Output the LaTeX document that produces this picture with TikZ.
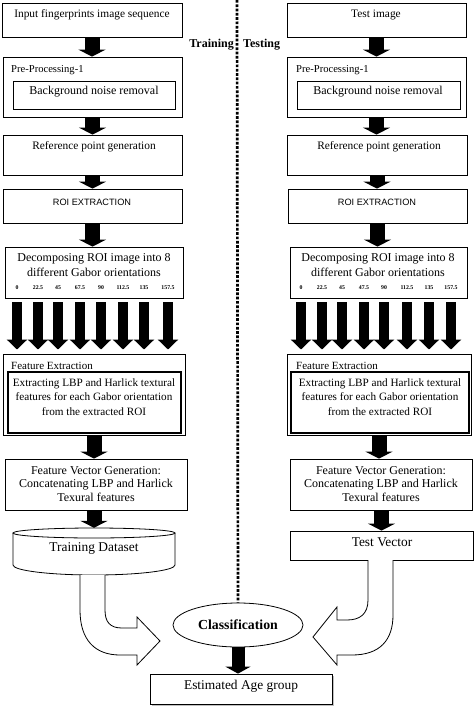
\documentclass[tikz,border=0pt]{standalone}
\usepackage{fontspec}
\setmainfont{Liberation Serif}
\setsansfont{Liberation Sans}
\usetikzlibrary{arrows.meta,shapes.geometric,fit}
\begin{document}
\begin{tikzpicture}[x=1pt,y=-1pt,
  box/.style={draw, line width=0.8pt, inner sep=0pt, fill=white},
  thickbox/.style={draw, line width=1.2pt, inner sep=0pt},
  txt/.style={font=\fontsize{11.4}{14.5}\selectfont, inner sep=0pt, align=center},
  lbl/.style={font=\fontsize{10.6}{12}\selectfont, inner sep=0pt, anchor=west},
  bigtxt/.style={font=\fontsize{13.4}{15}\selectfont, inner sep=0pt},
  roitxt/.style={font=\sffamily\fontsize{9.2}{10}\selectfont, inner sep=0pt},
  num/.style={font=\bfseries\fontsize{5.8}{7}\selectfont, inner sep=0pt},
  side/.style={font=\bfseries\fontsize{12}{13}\selectfont, inner sep=0pt},
  bigarrow/.style={line width=15pt, -{Triangle[width=27pt,length=7pt]}},
  smallarrow/.style={line width=10pt, -{Triangle[width=20pt,length=10pt]}, shorten <=4pt, shorten >=4pt},
  hollow/.style={draw, line width=0.8pt, fill=white}]
\useasboundingbox (0,0) rectangle (474,707);

% ---------- dotted separator ----------
\coordinate (dtop) at (237,0);
\node[draw, ellipse, line width=0.8pt, fill=white, minimum width=130pt, minimum height=44pt, inner sep=0pt,
      font=\bfseries\fontsize{13.8}{15}\selectfont] (cls) at (238,625) {Classification};
\draw[line width=2.7pt, dash pattern=on 2.7pt off 1.6pt] (dtop) -- (cls.north);
\node[side, anchor=east] (trn) at (234,45) {Training};
\node[side, anchor=west] (tst) at (243,45) {Testing};

% ---------- left column ----------
\node[box, fit={(2,3) (182,37)}] (inL) {};
\node[txt] at (92,15) {Input fingerprints image sequence};
\node[box, fit={(3,57) (182,117)}] (preL) {};
\node[lbl] at (11,70) {Pre-Processing-1};
\node[box, fit={(13,81) (175,109)}] (bgL) {};
\node[txt, font=\fontsize{12}{14}\selectfont] at (94,92) {Background noise removal};
\node[box, fit={(3,135) (182,175)}] (refL) {};
\node[txt] at (94,147) {Reference point generation};
\node[box, fit={(3,189) (182,223)}] (roiL) {};
\node[roitxt] at (92,202) {ROI EXTRACTION};
\node[box, fit={(5,247) (183,298)}] (decL) {};
\node[txt, font=\fontsize{12}{15}\selectfont] at (94,265.5) {Decomposing ROI image into 8\\different Gabor orientations};
\foreach \x/\t [count=\i] in {17/0,38/22.5,58/45,80/67.5,101/90,123/112.5,144/135,168/157.5}
  \node[num] (nL\i) at (\x,288) {\t};
\node[box, line width=1pt, fit={(3,354) (185,435)}] (feL) {};
\node[lbl, font=\fontsize{11}{12}\selectfont] at (11,366) {Feature Extraction};
\node[thickbox, fit={(8,372) (181,433)}] (feiL) {};
\node[txt, font=\fontsize{11.2}{14.5}\selectfont] at (94,397) {Extracting LBP and Harlick textural\\features for each Gabor orientation\\from the extracted ROI};
\node[box, fit={(5,459) (187,510)}] (fvL) {};
\node[txt, font=\fontsize{12}{13.5}\selectfont] at (96,484) {Feature Vector Generation:\\Concatenating LBP and Harlick\\Texural features};
% cylinder
\node[inner sep=0pt, fit={(13,528) (175,575)}] (td) {};
\draw[line width=0.8pt, fill=white] (13,533) -- (13,565) arc[start angle=180, end angle=360, x radius=81pt, y radius=10pt] -- (175,533);
\draw[line width=0.8pt, fill=white] (94,533) ellipse[x radius=81pt, y radius=5pt];
\node[bigtxt] at (94,549) {Training Dataset};

% ---------- right column ----------
\node[box, fit={(287,3) (466,37)}] (inR) {};
\node[txt] at (376,15) {Test image};
\node[box, fit={(287,57) (466,117)}] (preR) {};
\node[lbl] at (296,70) {Pre-Processing-1};
\node[box, fit={(297,81) (460,109)}] (bgR) {};
\node[txt, font=\fontsize{12}{14}\selectfont] at (378,92) {Background noise removal};
\node[box, fit={(287,135) (467,175)}] (refR) {};
\node[txt] at (379,147) {Reference point generation};
\node[box, fit={(288,189) (467,223)}] (roiR) {};
\node[roitxt] at (377,202) {ROI EXTRACTION};
\node[box, fit={(290,247) (467,298)}] (decR) {};
\node[txt, font=\fontsize{12}{15}\selectfont] at (378,265.5) {Decomposing ROI image into 8\\different Gabor orientations};
\foreach \x/\t [count=\i] in {301/0,322/22.5,342/45,364/47.5,384/90,407/112.5,429/135,451/157.5}
  \node[num] (nR\i) at (\x,288) {\t};
\node[box, line width=1pt, fit={(287,354) (471,435)}] (feR) {};
\node[lbl, font=\fontsize{11}{12}\selectfont] at (296,366) {Feature Extraction};
\node[thickbox, fit={(291,372) (469,433)}] (feiR) {};
\node[txt, font=\fontsize{11.2}{14.5}\selectfont] at (380,397) {Extracting LBP and Harlick textural\\features for each Gabor orientation\\from the extracted ROI};
\node[box, fit={(290,459) (472,510)}] (fvR) {};
\node[txt, font=\fontsize{12}{13.5}\selectfont] at (381,484) {Feature Vector Generation:\\Concatenating LBP and Harlick\\Texural features};
\node[box, fit={(290,531) (473,560)}] (tv) {};
\node[bigtxt] at (382,542) {Test Vector};

% ---------- bottom ----------
\fill[black!25] (152,676) rectangle (334,706);
\node[box, fit={(150,674) (332,704)}] (est) {};
\node[bigtxt] at (241,686) {Estimated Age group};

% ---------- block arrows ----------
\draw[bigarrow] (inL.south) -- (inL.south |- preL.north);
\draw[bigarrow] (preL.south) -- (preL.south |- refL.north);
\draw[bigarrow] (refL.south) -- (refL.south |- roiL.north);
\draw[bigarrow] (roiL.south) -- (roiL.south |- decL.north);
\draw[bigarrow] (feL.south) -- (feL.south |- fvL.north);
\draw[bigarrow] (td.north |- fvL.south) -- (td.north);
\draw[bigarrow] (inR.south) -- (inR.south |- preR.north);
\draw[bigarrow] (preR.south) -- (preR.south |- refR.north);
\draw[bigarrow] (refR.south) -- (refR.south |- roiR.north);
\draw[bigarrow] (roiR.south) -- (roiR.south |- decR.north);
\draw[bigarrow] (feR.south) -- (feR.south |- fvR.north);
\draw[bigarrow] (tv.north |- fvR.south) -- (tv.north);
\draw[line width=13pt, -{Triangle[width=25pt,length=7pt]}] (cls.south) -- (cls.south |- est.north);
\foreach \i in {1,...,8} {
  \draw[smallarrow] (nL\i |- decL.south) -- (nL\i |- feL.north);
  \draw[smallarrow] (nR\i |- decR.south) -- (nR\i |- feR.north);
}

% ---------- hollow curved arrows ----------
\draw[hollow] (80,575) -- (80,610) .. controls (80,640) and (95,655) .. (120,655) -- (137,655) -- (137,665)
  -- (160,641) -- (137,617) -- (137,628) -- (122,628) .. controls (110,628) and (105,622) .. (105,610) -- (105,575);
\draw[hollow] (368,560) -- (368,600) .. controls (368,614) and (360,620) .. (347,620) -- (337,620) -- (337,607)
  -- (313,637) -- (337,665) -- (337,655) -- (352,655) .. controls (380,655) and (393,640) .. (393,615) -- (393,560);
\end{tikzpicture}
\end{document}
